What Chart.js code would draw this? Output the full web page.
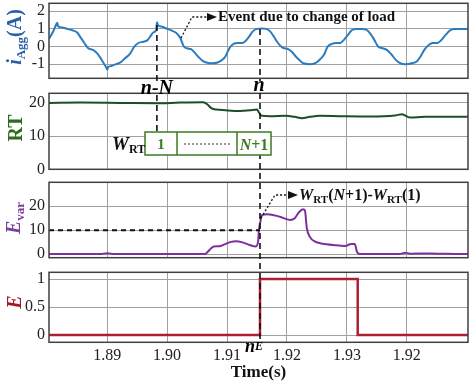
<!DOCTYPE html>
<html>
<head>
<meta charset="utf-8">
<script src="https://cdn.jsdelivr.net/npm/chart.js@4"></script>
<style>
  html, body { margin: 0; padding: 0; background: #fff; }
  #wrap { position: relative; width: 474px; height: 381px; overflow: hidden; }
  #wrap canvas, #overlay { position: absolute; left: 0; top: 0; }
</style>
</head>
<body>
<div id="wrap">
  <canvas id="cAgg" width="474" height="381"></canvas>
  <canvas id="cRt" width="474" height="381"></canvas>
  <canvas id="cEvar" width="474" height="381"></canvas>
  <canvas id="cE" width="474" height="381"></canvas>
  <svg id="overlay" width="474" height="381"></svg>
</div>
<script>
// time axis (s)
const timeTicks = [1.89, 1.90, 1.91, 1.92, 1.93, 1.94];
const timeTickLabels = ['1.89', '1.90', '1.91', '1.92', '1.93', '1.92'];
const tPrev = 1.8983;   // n-N
const tEvent = 1.9155;  // n

// aggregated current i_Agg (A)
const aggTime = [1.8803, 1.8810, 1.8815, 1.8817, 1.8818, 1.8825, 1.8833, 1.8842, 1.8850, 1.8855,
  1.8862, 1.8868, 1.8877, 1.8883, 1.8888, 1.8893, 1.8898, 1.8900, 1.8902, 1.8907,
  1.8915, 1.8923, 1.8930, 1.8938, 1.8945, 1.8952, 1.8960, 1.8967, 1.8972, 1.8977,
  1.8982, 1.8983, 1.8985, 1.8992, 1.9000, 1.9008, 1.9015, 1.9022, 1.9028, 1.9033,
  1.9040, 1.9045, 1.9052, 1.9060, 1.9067, 1.9075, 1.9083, 1.9090, 1.9097, 1.9102,
  1.9108, 1.9117, 1.9125, 1.9130, 1.9137, 1.9143, 1.9150, 1.9158, 1.9165, 1.9172,
  1.9178, 1.9185, 1.9192, 1.9202, 1.9208, 1.9215, 1.9222, 1.9227, 1.9238, 1.9248,
  1.9255, 1.9262, 1.9268, 1.9275, 1.9282, 1.9290, 1.9295, 1.9302, 1.9308, 1.9315,
  1.9325, 1.9332, 1.9338, 1.9345, 1.9352, 1.9358, 1.9367, 1.9375, 1.9382, 1.9388,
  1.9397, 1.9408, 1.9417, 1.9423, 1.9430, 1.9437, 1.9443, 1.9452, 1.9458, 1.9465,
  1.9472, 1.9480, 1.9502];
const aggVal = [0.44, 0.85, 1.25, 1.35, 1.15, 1.08, 1.0, 0.92, 0.79, 0.55,
  0.2, -0.08, -0.2, -0.37, -0.6, -0.88, -1.16, -1.3, -1.16, -1.1,
  -1.0, -0.88, -0.66, -0.42, -0.02, 0.2, 0.27, 0.35, 0.57, 0.8,
  0.96, 1.38, 1.2, 1.12, 1.0, 0.9, 0.78, 0.48, 0.0, -0.1,
  -0.15, -0.3, -0.58, -0.83, -0.92, -0.95, -0.92, -0.8, -0.58, -0.22,
  0.08, 0.2, 0.2, 0.28, 0.57, 0.86, 1.0, 1.02, 1.0, 0.86,
  0.57, 0.2, -0.05, -0.15, -0.3, -0.58, -0.8, -0.95, -1.0, -0.92,
  -0.73, -0.45, 0.0, 0.15, 0.2, 0.22, 0.38, 0.67, 0.92, 1.0,
  1.0, 0.96, 0.78, 0.42, 0.0, -0.08, -0.2, -0.48, -0.77, -0.92,
  -1.0, -0.95, -0.83, -0.55, -0.15, 0.1, 0.2, 0.22, 0.38, 0.67,
  0.92, 1.0, 1.0];
const aggTicks = [-1, 0, 1, 2];

// RT
const rtTime = [1.8803, 1.8855, 1.8922, 1.8983, 1.9022, 1.9060, 1.9067, 1.9073, 1.9082, 1.9097,
  1.9122, 1.9138, 1.9150, 1.9153, 1.9158, 1.9172, 1.9197, 1.9213, 1.9225, 1.9238,
  1.9255, 1.9288, 1.9338, 1.9380, 1.9392, 1.9405, 1.9430, 1.9502];
const rtVal = [20.0, 20.1, 20.0, 19.9, 20.1, 20.2, 19.6, 18.5, 18.0, 17.8,
  17.6, 17.8, 18.0, 17.2, 16.1, 16.0, 16.1, 15.8, 15.4, 15.8,
  16.1, 16.0, 15.9, 16.2, 16.6, 15.6, 15.8, 15.8];
const rtTicks = [0, 10, 20];

// E_var
const evarTime = [1.8803, 1.8888, 1.8900, 1.8912, 1.9063, 1.9068, 1.9073, 1.9078, 1.9088, 1.9097,
  1.9105, 1.9115, 1.9127, 1.9138, 1.9148, 1.9152, 1.9153, 1.9156, 1.9158, 1.9168,
  1.9188, 1.9205, 1.9213, 1.9220, 1.9227, 1.9230, 1.9233, 1.9238, 1.9247, 1.9258,
  1.9280, 1.9297, 1.9307, 1.9313, 1.9317, 1.9322, 1.9388, 1.9397, 1.9405, 1.9438,
  1.9463, 1.9502];
const evarVal = [0, 0, 0.4, 0, 0, 1.0, 2.3, 3.2, 3.3, 4.2,
  5.0, 5.4, 4.8, 3.8, 3.2, 5.5, 9.5, 14.0, 16.3, 16.7,
  15.6, 14.3, 15.0, 17.5, 18.7, 18.2, 11.0, 7.3, 5.2, 4.4,
  3.7, 3.4, 4.2, 4.2, 0.8, 0, 0, 0.6, 0.2, 0.3,
  0.1, 0];
const evarLimitTime = [1.8803, 1.9155];
const evarLimitVal = [10, 10];
const evarTicks = [0, 10, 20];

// E (event flag)
const eTime = [1.8803, 1.9155, 1.9318, 1.9502];
const eVal = [0, 1, 0, 0];
const eTicks = [0, 0.5, 1];

function pts(xs, ys) {
  return xs.map((x, i) => ({ x: x, y: ys[i] }));
}

const serif = 'Liberation Serif';

const framePlugin = {
  id: 'frame',
  afterDraw(chart) {
    const a = chart.chartArea;
    const ctx = chart.ctx;
    ctx.save();
    ctx.strokeStyle = '#404040';
    ctx.lineWidth = 1.5;
    ctx.strokeRect(a.left, a.top, a.right - a.left, a.bottom - a.top);
    ctx.restore();
  }
};

function panel(id, top, bottom, yMin, yMax, yTicks, datasets, showTime) {
  return new Chart(document.getElementById(id), {
    type: 'line',
    data: { datasets: datasets },
    options: {
      responsive: false,
      animation: false,
      layout: { padding: { top: top, bottom: showTime ? 0 : 381 - bottom, left: 0, right: 6 } },
      plugins: { legend: { display: false }, tooltip: { enabled: false } },
      elements: { point: { radius: 0 } },
      scales: {
        x: {
          type: 'linear',
          min: 1.8803,
          max: 1.9502,
          afterBuildTicks: s => { s.ticks = timeTicks.map(v => ({ value: v })); },
          afterFit: s => {
            s.height = showTime ? 381 - bottom : 0;
            s.paddingLeft = 0;
            s.paddingRight = 0;
          },
          grid: { color: '#a0a0a0', lineWidth: 1, drawTicks: false },
          border: { display: false },
          ticks: {
            display: showTime,
            padding: 4,
            color: '#222',
            font: { family: serif, size: 16 },
            callback: (v, i) => timeTickLabels[i]
          },
          title: {
            display: showTime,
            text: 'Time(s)',
            color: '#111',
            font: { family: serif, size: 17, weight: 'bold', lineHeight: 1 },
            padding: { top: 0, bottom: 0 }
          }
        },
        y: {
          min: yMin,
          max: yMax,
          afterBuildTicks: s => { s.ticks = yTicks.map(v => ({ value: v })); },
          afterFit: s => {
            s.width = 49;
            s.paddingTop = 0;
            s.paddingBottom = 0;
          },
          grid: { color: '#a0a0a0', lineWidth: 1, drawTicks: false },
          border: { display: false },
          ticks: {
            padding: 4,
            color: '#222',
            font: { family: serif, size: 16 },
            callback: v => String(v)
          }
        }
      }
    },
    plugins: [framePlugin]
  });
}

const cAgg = panel('cAgg', 3.3, 78.3, -1.8, 2.45, aggTicks, [{
  data: pts(aggTime, aggVal),
  borderColor: '#2b7bbf',
  borderWidth: 2,
  cubicInterpolationMode: 'monotone'
}], false);

panel('cRt', 93.3, 169.3, 0, 22.9, rtTicks, [{
  data: pts(rtTime, rtVal),
  borderColor: '#1d4d2b',
  borderWidth: 2,
  cubicInterpolationMode: 'monotone'
}], false);

panel('cEvar', 182.3, 257.7, -1.5, 30, evarTicks, [{
  data: pts(evarLimitTime, evarLimitVal),
  borderColor: '#111',
  borderWidth: 2,
  borderDash: [5, 4]
}, {
  data: pts(evarTime, evarVal),
  borderColor: '#7d2f9e',
  borderWidth: 2,
  cubicInterpolationMode: 'monotone'
}], false);

panel('cE', 272.3, 342.3, -0.13, 1.12, eTicks, [{
  data: pts(eTime, eVal),
  borderColor: '#b01e32',
  borderWidth: 2.5,
  stepped: true
}], true);

// annotations drawn over the charts
const xs = cAgg.scales.x;
const xPrev = xs.getPixelForValue(tPrev);
const xNow = xs.getPixelForValue(tEvent);
const F = 'font-family="Liberation Serif" font-weight="bold"';
const green = '#3d7a22';

document.getElementById('overlay').innerHTML = `
  <g stroke="#111" stroke-width="1.6" stroke-dasharray="6 4" fill="none">
    <line x1="${xPrev}" y1="25" x2="${xPrev}" y2="81"/>
    <line x1="${xPrev}" y1="95" x2="${xPrev}" y2="132"/>
    <line x1="${xNow}" y1="29" x2="${xNow}" y2="81"/>
    <line x1="${xNow}" y1="93" x2="${xNow}" y2="342"/>
  </g>
  <text x="${xPrev}" y="94" ${F} font-style="italic" font-size="20" text-anchor="middle">n-N</text>
  <text x="${xNow - 1}" y="91" ${F} font-style="italic" font-size="20" text-anchor="middle">n</text>
  <text x="${xNow - 15}" y="352" ${F} font-style="italic" font-size="18">n<tspan font-size="12" dy="-2">E</tspan></text>

  <polyline points="181,38 192,17 208,17" stroke="#111" stroke-width="1.3" stroke-dasharray="2 2" fill="none"/>
  <polygon points="207,13 217,17 207,21" fill="#111"/>
  <text x="218" y="21" ${F} font-size="15" fill="#111">Event due to change of load</text>

  <rect x="145" y="132" width="126" height="23" fill="#fff" stroke="${green}" stroke-width="1.5"/>
  <line x1="177" y1="132" x2="177" y2="155" stroke="${green}" stroke-width="1.5"/>
  <line x1="237" y1="132" x2="237" y2="155" stroke="${green}" stroke-width="1.5"/>
  <line x1="184" y1="144" x2="230" y2="144" stroke="#333" stroke-width="1.2" stroke-dasharray="2 2"/>
  <text x="161" y="149" ${F} font-size="15" fill="${green}" text-anchor="middle">1</text>
  <text x="254" y="150" ${F} font-size="16" fill="${green}" text-anchor="middle"><tspan font-style="italic">N</tspan>+1</text>
  <text x="112" y="150" ${F} font-size="19" fill="#111"><tspan font-style="italic">W</tspan><tspan font-size="12" dy="3">RT</tspan></text>

  <polyline points="${xNow + 1},218 275,195 289,195" stroke="#111" stroke-width="1.3" stroke-dasharray="2 2" fill="none"/>
  <polygon points="288,191 298,195 288,199" fill="#111"/>
  <text x="299" y="200" ${F} font-size="16" fill="#111"><tspan font-style="italic">W</tspan><tspan font-size="11" dy="3">RT</tspan><tspan dy="-3">(</tspan><tspan font-style="italic">N</tspan>+1)-<tspan font-style="italic">W</tspan><tspan font-size="11" dy="3">RT</tspan><tspan dy="-3">(1)</tspan></text>

  <text transform="translate(21,37) rotate(-90)" ${F} font-size="20" fill="#2a5fa8" text-anchor="middle"><tspan font-style="italic">i</tspan><tspan font-size="13" dy="4">Agg</tspan><tspan dy="-4">(A)</tspan></text>
  <text transform="translate(22,128) rotate(-90)" ${F} font-size="20" fill="#2e6b1a" text-anchor="middle">RT</text>
  <text transform="translate(20,218) rotate(-90)" ${F} font-size="20" fill="#7b3fa0" text-anchor="middle"><tspan font-style="italic">E</tspan><tspan font-size="13" dy="4">var</tspan></text>
  <text transform="translate(21,302) rotate(-90)" ${F} font-size="20" fill="#9e1b2a" text-anchor="middle" font-style="italic">E</text>
`;
</script>
</body>
</html>
